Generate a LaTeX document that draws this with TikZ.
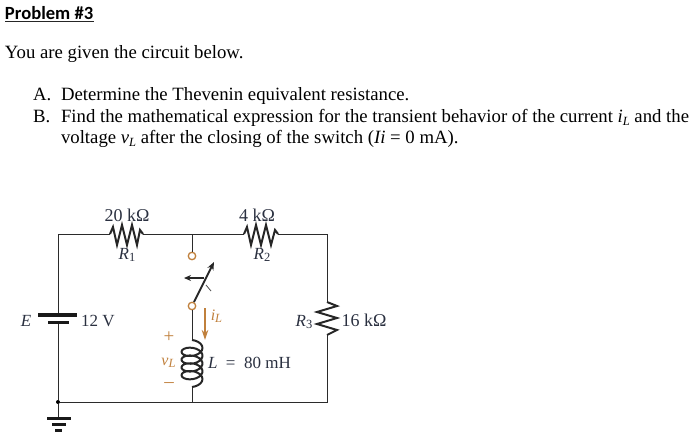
\documentclass[tikz,border=0pt]{standalone}
\usepackage{fontspec}
\setmainfont{Liberation Serif}
\newfontfamily\calib{Carlito}
\usetikzlibrary{arrows.meta}
\definecolor{wirec}{HTML}{2B2B2B}
\definecolor{labc}{HTML}{2A3040}
\definecolor{orc}{HTML}{C0803C}
\newcommand{\vsub}[2]{\textit{#1}\raisebox{-0.3ex}{\fontsize{12.5}{12.5}\selectfont #2}}
\tikzset{x=1pt,y=-1pt,
 body/.style={anchor=base west,inner sep=0pt,outer sep=0pt,font=\fontsize{18.75}{20}\selectfont,text=black},
 lab/.style={inner sep=0pt,outer sep=0pt,anchor=base,font=\fontsize{17}{19}\selectfont,text=labc},
 olab/.style={inner sep=0pt,outer sep=0pt,anchor=base,font=\fontsize{16}{18}\selectfont,text=orc},
 wire/.style={draw=wirec,line width=1pt},
 res/.style={draw=black!85,line width=2pt,line join=miter},
 plate/.style={draw=black!90},
 term/.style={circle,draw=orc,line width=1.3pt,fill=white,minimum size=7.5pt,inner sep=0pt},
 dotj/.style={circle,fill=black,minimum size=4pt,inner sep=0pt}}
\begin{document}
\begin{tikzpicture}
\useasboundingbox (0,0) rectangle (691,436);
% text
\node[body,font=\calib\bfseries\fontsize{18.6}{20}\selectfont] (title) at (5,20) {Problem \#3};
\draw[line width=0.9pt,black!85] (5,21.8) -- (93.5,21.8);
\node[body] (intro) at (5,59) {You are given the circuit below.};
\node[body] (tla) at (33,100.5) {A.};
\node[body] (ta) at (61,100.5) {Determine the Thevenin equivalent resistance.};
\node[body] (tlb) at (33,122.5) {B.};
\node[body] (tb) at (61,122.5) {Find the mathematical expression for the transient behavior of the current \vsub{i}{\textit{L}} and the};
\node[body] (tc) at (61,143.5) {voltage \vsub{v}{\textit{L}} after the closing of the switch (\textit{Ii} = 0 mA).};
% coordinates
\coordinate (tl) at (58,234);
\coordinate (tm) at (192,234);
\coordinate (tr) at (327,234);
\coordinate (bl) at (58,402);
\coordinate (bm) at (192,402);
\coordinate (br) at (327,402);
\coordinate (r1a) at (110,234);
\coordinate (r1b) at (143,234);
\coordinate (r2a) at (244,234);
\coordinate (r2b) at (278,234);
\coordinate (r3a) at (327,302);
\coordinate (r3b) at (327,335);
\coordinate (bata) at (58,315);
\coordinate (batb) at (58,322);
\coordinate (cla) at (192,340);
\coordinate (clb) at (192,387);
\coordinate (gnd) at (58,418);
\node[term] (s1) at (192,256) {};
\node[term] (s2) at (192,306) {};
\node[dotj] (j) at (bl) {};
% wires
\draw[wire] (bata) -- (tl) -- (r1a);
\draw[wire] (r1b) -- (r2a);
\draw[wire] (r2b) -- (tr) -- (r3a);
\draw[wire] (r3b) -- (br) -- (j);
\draw[wire] (j) -- (batb);
\draw[wire] (j) -- (gnd);
\draw[wire] (tm) -- (s1);
\draw[wire] (s2) -- (cla);
\draw[wire] (clb) -- (bm);
% resistors
\draw[res] (r1a) -- (113,227) -- (117,245) -- (122,225) -- (127,245) -- (132,225) -- (137,245) -- (140,230) -- (r1b);
\draw[res] (r2a) -- (247,227) -- (251,245) -- (256,225) -- (261,245) -- (266,225) -- (271,245) -- (275,230) -- (r2b);
\draw[res] (r3a) -- (337,306) -- (317,312) -- (337,318) -- (317,324) -- (337,330) -- (r3b);
% battery
\draw[plate,line width=4pt] (38,315) -- (77,315);
\draw[plate,line width=3pt] (48,322) -- (69,322);
% ground
\draw[plate,line width=3pt] (47,418) -- (71,418);
\draw[plate,line width=3pt] (52,424) -- (66,424);
\draw[plate,line width=3pt] (55,430) -- (62,430);
% inductor
\draw[draw=black!85,line width=2pt,line join=round]
  plot[smooth,samples=90,domain=0:1620,variable=\t] ({192+10.5*sin(\t)},{346-6*cos(\t)+\t/1620*35});
% switch
\draw[line width=1.8pt,black!85,-{Stealth[length=8pt,width=6.5pt]}] (s2) -- (214,262);
\draw[line width=1.2pt,black!85,-{Stealth[length=7pt,width=6pt]}] (204,278) -- (184,278);
\draw[line width=0.8pt,black!70] (206,285) -- (211,291);
% current arrow
\draw[draw=orc,line width=1.2pt,-{Stealth[length=10pt,width=6.5pt]}] (205,308) -- (205,340);
% labels
\node[lab,font=\fontsize{18}{19}\selectfont] (v1) at (127,221) {20 kΩ};
\node[lab] (n1) at (127,259) {\vsub{R}{1}};
\node[lab,font=\fontsize{18}{19}\selectfont] (v2) at (257,221) {4 kΩ};
\node[lab] (n2) at (262,259) {\vsub{R}{2}};
\node[lab] (n3) at (304,326) {\vsub{R}{3}};
\node[lab,font=\fontsize{18}{19}\selectfont] (v3) at (364,326) {16 kΩ};
\node[lab] (ne) at (26,326) {\textit{E}};
\node[lab] (ve) at (98,326) {12 V};
\node[lab,anchor=base west] (nl) at (208,368) {\textit{L}\ \ =\ \ 80 mH};
\node[olab] (il) at (216.5,320) {\vsub{i}{\textit{L}}};
\node[olab] (vl) at (168.5,365) {\vsub{v}{\textit{L}}};
\node[olab,font=\fontsize{19}{20}\selectfont] (pl) at (169,342) {+};
\node[olab,font=\fontsize{19}{20}\selectfont] (mi) at (169,387) {–};
\end{tikzpicture}
\end{document}
